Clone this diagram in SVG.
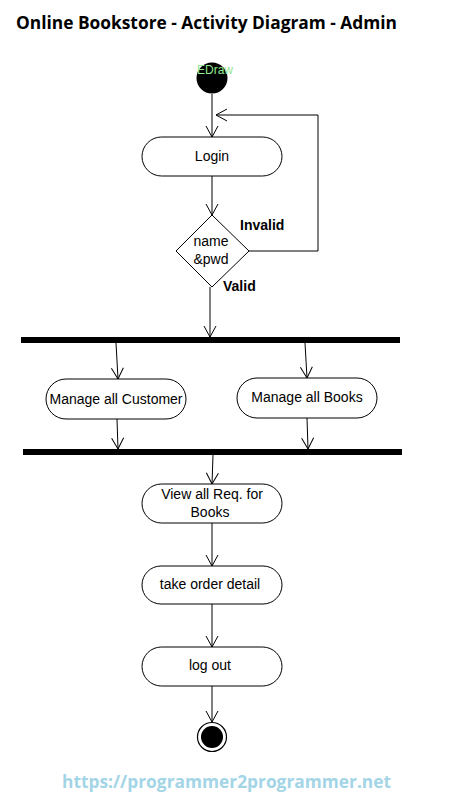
<svg xmlns="http://www.w3.org/2000/svg" width="456" height="796" viewBox="0 0 456 796">
<defs>
<marker id="arr" markerUnits="userSpaceOnUse" markerWidth="14" markerHeight="14" viewBox="0 0 14 14" refX="12" refY="7" orient="auto">
<path d="M1,1 L12,7 L1,13" fill="none" stroke="#000" stroke-width="1"/>
</marker>
<style>
.act{fill:#fff;stroke:#000;stroke-width:1}
.t{font-family:"Liberation Sans",Arial,sans-serif;font-size:14px;fill:#000;text-anchor:middle}
.lbl{font-family:"Liberation Sans",Arial,sans-serif;font-size:14px;font-weight:bold;fill:#000}
.c{fill:none;stroke:#000;stroke-width:1;marker-end:url(#arr)}
.bar{fill:#000}
</style>
</defs>
<rect width="456" height="796" fill="#fff"/>
<text x="16" y="29" font-family="'Open Sans','Liberation Sans',sans-serif" font-size="18" font-weight="bold" textLength="381" lengthAdjust="spacingAndGlyphs">Online Bookstore - Activity Diagram - Admin</text>

<g id="connectors">
<line class="c" x1="212" y1="94" x2="212" y2="137"/>
<polyline class="c" points="249,251 318,251 318,115 216,115"/>
<line class="c" x1="212" y1="176" x2="212" y2="215"/>
<line class="c" x1="210" y1="287" x2="210" y2="337"/>
<line class="c" x1="116" y1="343" x2="118" y2="379"/>
<line class="c" x1="305" y1="343" x2="307" y2="378"/>
<line class="c" x1="117" y1="419" x2="118" y2="449"/>
<line class="c" x1="307" y1="418" x2="308" y2="449"/>
<line class="c" x1="213" y1="455" x2="212" y2="484"/>
<line class="c" x1="212" y1="523" x2="212" y2="566"/>
<line class="c" x1="212" y1="604" x2="212" y2="647"/>
<line class="c" x1="212" y1="686" x2="212" y2="722"/>
</g>

<g id="start">
<circle cx="212" cy="78" r="15.5" fill="#000"/>
<text x="215" y="74" font-family="'Liberation Sans',Arial,sans-serif" font-size="12" fill="#8fe88f" text-anchor="middle">EDraw</text>
</g>
<g id="login">
<rect class="act" x="142" y="137" width="140" height="39" rx="19.5"/>
<text class="t" x="212" y="161">Login</text>
</g>
<g id="decision">
<polygon class="act" points="212,215 249,251 212,287 176,251"/>
<text class="t" x="211" y="246">name</text>
<text class="t" x="211" y="264">&amp;pwd</text>
<text class="lbl" x="240" y="230">Invalid</text>
<text class="lbl" x="223" y="291">Valid</text>
</g>
<g id="fork">
<rect class="bar" x="21" y="337" width="379" height="6"/>
</g>
<g id="manageCustomer">
<rect class="act" x="46" y="379" width="140" height="40" rx="20"/>
<text class="t" x="116" y="404">Manage all Customer</text>
</g>
<g id="manageBooks">
<rect class="act" x="237" y="378" width="140" height="40" rx="20"/>
<text class="t" x="307" y="402">Manage all Books</text>
</g>
<g id="join">
<rect class="bar" x="23" y="449" width="379" height="6"/>
</g>
<g id="viewReq">
<rect class="act" x="142" y="484" width="140" height="39" rx="19.5"/>
<text class="t" x="212" y="499">View all Req. for</text>
<text class="t" x="210" y="517">Books</text>
</g>
<g id="takeOrder">
<rect class="act" x="142" y="566" width="140" height="38" rx="19"/>
<text class="t" x="210" y="589">take order detail</text>
</g>
<g id="logout">
<rect class="act" x="142" y="647" width="140" height="39" rx="19.5"/>
<text class="t" x="210" y="670">log out</text>
</g>
<g id="end">
<circle cx="212" cy="737" r="14.5" fill="#fff" stroke="#000" stroke-width="1.2"/>
<circle cx="212" cy="737" r="11" fill="#000"/>
</g>
<text x="62" y="788" font-family="'Open Sans','Liberation Sans',sans-serif" font-size="18" font-weight="bold" fill="#a3d5e6" textLength="329" lengthAdjust="spacingAndGlyphs">https://programmer2programmer.net</text>
</svg>
